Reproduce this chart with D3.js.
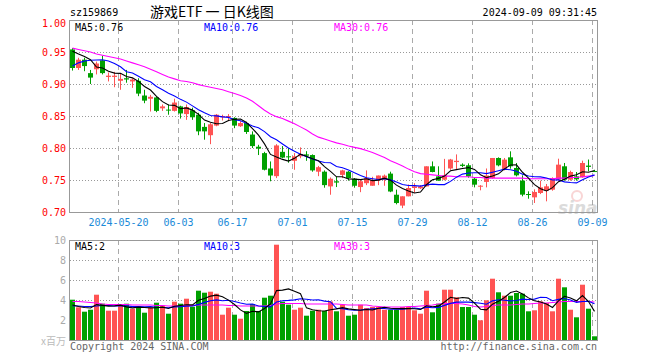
<!DOCTYPE html>
<html><head><meta charset="utf-8">
<script src="https://cdn.jsdelivr.net/npm/d3@7"></script>
<style>body{margin:0;background:#fff}svg{display:block}</style>
</head><body><svg id="c" width="660" height="360"></svg>
<script>
const dates = [
"2024-05-08","2024-05-09","2024-05-10","2024-05-13","2024-05-14","2024-05-15","2024-05-16","2024-05-17","2024-05-20","2024-05-21","2024-05-22","2024-05-23","2024-05-24","2024-05-27","2024-05-28","2024-05-29","2024-05-30","2024-05-31",
"2024-06-03","2024-06-04","2024-06-05","2024-06-06","2024-06-07","2024-06-11","2024-06-12","2024-06-13","2024-06-14","2024-06-17","2024-06-18","2024-06-19","2024-06-20","2024-06-21","2024-06-24","2024-06-25","2024-06-26","2024-06-27","2024-06-28",
"2024-07-01","2024-07-02","2024-07-03","2024-07-04","2024-07-05","2024-07-08","2024-07-09","2024-07-10","2024-07-11","2024-07-12","2024-07-15","2024-07-16","2024-07-17","2024-07-18","2024-07-19","2024-07-22","2024-07-23","2024-07-24","2024-07-25","2024-07-26","2024-07-29","2024-07-30","2024-07-31",
"2024-08-01","2024-08-02","2024-08-05","2024-08-06","2024-08-07","2024-08-08","2024-08-09","2024-08-12","2024-08-13","2024-08-14","2024-08-15","2024-08-16","2024-08-19","2024-08-20","2024-08-21","2024-08-22","2024-08-23","2024-08-26","2024-08-27","2024-08-28","2024-08-29","2024-08-30",
"2024-09-02","2024-09-03","2024-09-04","2024-09-05","2024-09-06","2024-09-09"];

const open  = [.954,.925,.938,.917,.923,.937,.911,.911,.905,.909,.904,.905,.882,.877,.879,.862,.860,.858,
.865,.853,.859,.852,.833,.820,.835,.848,.848,.847,.834,.839,.821,.802,.792,.768,.756,.794,.787,
.780,.787,.790,.789,.763,.763,.740,.748,.758,.763,.752,.739,.745,.741,.7495,.7505,.760,.727,.710,.7245,.7375,.737,.740,
.7714,.7557,.7505,.768,.778,.774,.773,.752,.7396,.747,.753,.7844,.766,.7854,.7688,.749,.7281,.7229,.7297,.7333,.7349,.7505,
.7714,.7505,.7557,.7542,.7725,.764];
const high  = [.956,.941,.941,.922,.935,.944,.918,.919,.917,.922,.909,.909,.891,.883,.881,.868,.868,.877,
.866,.868,.863,.855,.839,.839,.853,.852,.853,.848,.842,.841,.826,.805,.794,.779,.806,.803,.800,
.792,.801,.795,.790,.772,.765,.754,.755,.766,.764,.753,.751,.765,.755,.757,.7585,.763,.735,.7245,.743,.745,.742,.7714,
.779,.7714,.783,.783,.790,.776,.776,.7531,.742,.768,.7844,.7854,.7844,.7948,.7766,.7573,.7323,.7354,.749,.7438,.7541,.7833,
.7766,.7646,.7625,.7802,.782,.766];
const low   = [.921,.922,.920,.900,.915,.915,.904,.895,.891,.902,.894,.881,.870,.857,.856,.858,.852,.857,
.846,.844,.844,.820,.813,.806,.834,.843,.842,.831,.833,.822,.800,.789,.765,.748,.753,.784,.777,
.766,.784,.780,.763,.756,.738,.727,.739,.753,.749,.738,.731,.742,.741,.742,.741,.731,.712,.706,.7245,.730,.736,.740,
.762,.749,.7495,.766,.766,.770,.7537,.7385,.7339,.7385,.752,.7714,.765,.7677,.7557,.7245,.7208,.7141,.728,.7167,.7333,.749,
.749,.749,.749,.7536,.7635,.7625];
const close = [.925,.938,.928,.910,.932,.917,.913,.913,.908,.907,.907,.885,.874,.880,.858,.865,.859,.871,
.854,.864,.848,.826,.826,.837,.852,.850,.850,.835,.839,.825,.803,.799,.766,.757,.804,.785,.786,
.787,.790,.788,.765,.770,.742,.752,.746,.765,.753,.741,.748,.753,.750,.757,.7568,.732,.714,.7245,.7375,.740,.740,.7714,
.7625,.749,.7573,.782,.780,.772,.7557,.7427,.7411,.757,.7844,.7729,.7818,.7714,.7573,.7271,.7271,.7313,.7385,.7401,.7531,.774,
.7505,.7625,.751,.7766,.7705,.763];
const volume = [4.03,3.27,2.83,3.03,4.53,3.63,2.93,2.93,3.43,3.63,3.13,3.33,2.73,3.23,3.73,3.43,2.63,3.83,
3.63,4.13,3.33,4.93,4.73,4.83,4.63,2.53,3.23,2.53,2.13,2.9,3.6,2.9,4.23,4.43,9.53,3.83,3.53,
3.03,3.23,2.43,2.93,3.03,2.9,3.85,2.87,3.53,2.43,2.53,3.53,3.2,3.3,3.3,3.03,3.03,3.03,3.3,3.3,2.97,2.63,4.93,
2.77,3.63,5.03,5.03,4.27,3.3,3.3,2.53,1.97,3.97,6.13,4.77,4.43,4.43,4.7,4.63,2.87,2.97,3.87,3.7,2.87,6.13,
5.27,3.03,2.27,5.53,3.13,0.37];

const ma5Head  = [.951,.947,.943,.938];
const ma10Head = [.928,.933,.936,.937,.9375,.938,.936,.932,.927];
const ma30 = [.956,.954,.952,.950,.947,.945,.943,.941,.939,.936,.933,.930,.927,.923,.919,.915,.911,.908,
.905,.904,.902,.899,.897,.895,.893,.891,.888,.885,.882,.878,.873,.866,.859,.853,.849,.846,.842,
.838,.833,.828,.822,.817,.814,.811,.808,.806,.803,.801,.799,.796,.793,.789,.785,.780,.776,.772,.767,.763,.760,.759,
.758,.757,.756,.756,.755,.755,.755,.754,.754,.753,.753,.753,.753,.753,.753,.753,.752,.752,.752,.752,.752,.753,
.753,.754,.754,.755,.756,.757];
const volMa5Head  = [3.5,3.35,3.25,3.2];
const volMa10Head = [3.43,3.4,3.35,3.35,3.4,3.45,3.45,3.4,3.4];
const volMa30 = [3.85,3.85,3.8,3.75,3.7,3.6,3.55,3.55,3.55,3.55,3.5,3.5,3.5,3.5,3.45,3.45,3.4,3.4,
3.4,3.45,3.45,3.5,3.5,3.5,3.5,3.5,3.45,3.45,3.4,3.4,3.4,3.4,3.4,3.45,3.6,3.65,3.65,
3.65,3.65,3.6,3.6,3.6,3.6,3.6,3.6,3.55,3.5,3.5,3.5,3.5,3.4,3.35,3.3,3.3,3.3,3.3,3.35,3.35,3.4,3.45,
3.5,3.6,3.65,3.65,3.65,3.6,3.5,3.35,3.3,3.35,3.45,3.5,3.5,3.5,3.55,3.6,3.6,3.65,3.7,3.7,3.75,3.8,
3.85,3.85,3.85,3.85,3.85,3.8];

const priceTicks = [1.00,0.95,0.90,0.85,0.80,0.75,0.70];
const volTicks = [10,8,6,4,2];
const xTickDates = ["2024-05-20","2024-06-03","2024-06-17","2024-07-01","2024-07-15","2024-07-29","2024-08-12","2024-08-26","2024-09-09"];
const xTickLabels = ["2024-05-20","06-03","06-17","07-01","07-15","07-29","08-12","08-26","09-09"];
const priceMaLabels = ["MA5:0.76","MA10:0.76","MA30:0.76"];
const volMaLabels = ["MA5:2","MA10:3","MA30:3"];
const headerCode = "sz159869";
const headerTitle = "游戏ETF 一 日K线图";
const headerTime = "2024-09-09 09:31:45";

function movingAvg(arr, n, head){
  return arr.map((v,i)=> i < n-1 ? head[i] : d3.mean(arr.slice(i-n+1,i+1)));
}

const svg = d3.select("#c");
const mono = "'DejaVu Sans Mono', 'Liberation Mono', monospace";
const L = 70, R = 597, T = 20, B = 212, VT = 240, VB = 340;
const RED = "#ff5353", GREEN = "#00a000";

const x = d3.scaleBand().domain(dates).range([69.5, 597.5]).paddingInner(1/6).paddingOuter(1/12);
const y = d3.scaleLinear().domain([0.70, 1.00]).range([B, T]);
const yv = d3.scaleLinear().domain([0, 10]).range([VB, VT]);
const bw = 5;
const bx = d => Math.round(x(d));

// grids
const g = svg.append("g");
[[T,B],[VT,VB]].forEach(([t,b])=>{
  g.selectAll(null).data(xTickDates).enter().append("line")
    .attr("x1", d=>bx(d)+0.5).attr("x2", d=>bx(d)+0.5).attr("y1", t).attr("y2", b)
    .attr("stroke","#aaa").attr("stroke-dasharray","5,4");
});
g.selectAll(null).data(priceTicks.slice(1,-1)).enter().append("line")
  .attr("x1",L).attr("x2",R).attr("y1",d=>Math.round(y(d))+0.5).attr("y2",d=>Math.round(y(d))+0.5)
  .attr("stroke","#999").attr("stroke-dasharray","1,2");
g.selectAll(null).data(volTicks.slice(1)).enter().append("line")
  .attr("x1",L).attr("x2",R).attr("y1",d=>Math.round(yv(d))+0.5).attr("y2",d=>Math.round(yv(d))+0.5)
  .attr("stroke","#999").attr("stroke-dasharray","1,2");

// axis labels
svg.selectAll(null).data(priceTicks).enter().append("text")
  .attr("x",66).attr("y",(d,i)=> i===0 ? y(d)+7 : y(d)+4).attr("text-anchor","end")
  .attr("font-family",mono).attr("font-size",10).attr("fill","#f00").text(d=>d.toFixed(2));
svg.selectAll(null).data(volTicks).enter().append("text")
  .attr("x",66).attr("y",d=>yv(d)+4).attr("text-anchor","end")
  .attr("font-family",mono).attr("font-size",10).attr("fill","#aaa").text(d=>d);
svg.append("text").attr("x",66).attr("y",345).attr("text-anchor","end")
  .attr("font-family","'Noto Sans CJK SC', sans-serif").attr("font-size",10).attr("fill","#bbb").text("x百万");
svg.selectAll(null).data(xTickDates).enter().append("text")
  .attr("x",d=>bx(d)+0.5).attr("y",226).attr("text-anchor","middle")
  .attr("font-family",mono).attr("font-size",10).attr("fill","#1a8ad8")
  .text((d,i)=>xTickLabels[i]);

// watermark
const wm = svg.append("g").attr("opacity",0.35);
wm.append("circle").attr("cx",577).attr("cy",196).attr("r",5).attr("fill","none").attr("stroke","#e88").attr("stroke-width",2);
wm.append("text").attr("x",558).attr("y",214).attr("font-family","'DejaVu Sans', sans-serif")
  .attr("font-style","italic").attr("font-weight","bold").attr("font-size",17).attr("fill","#999").text("sina");

// candles
const up = i => close[i] >= open[i];
const cg = svg.append("g");
cg.selectAll(null).data(dates).enter().append("rect")
  .attr("x",d=>bx(d)+2).attr("width",1)
  .attr("y",(d,i)=>y(high[i])).attr("height",(d,i)=>Math.max(1,y(low[i])-y(high[i])))
  .attr("fill",(d,i)=>up(i)?RED:GREEN);
cg.selectAll(null).data(dates).enter().append("rect")
  .attr("x",d=>bx(d)).attr("width",bw)
  .attr("y",(d,i)=>y(Math.max(open[i],close[i])))
  .attr("height",(d,i)=>Math.max(1,Math.abs(y(open[i])-y(close[i]))))
  .attr("fill",(d,i)=>up(i)?RED:GREEN);

// volume bars
svg.append("g").selectAll(null).data(dates).enter().append("rect")
  .attr("x",d=>bx(d)).attr("width",bw)
  .attr("y",(d,i)=>yv(volume[i])).attr("height",(d,i)=>VB-yv(volume[i]))
  .attr("fill",(d,i)=>up(i)?RED:GREEN);

// MA lines
const cx = d => bx(d)+2.5;
function drawLine(vals, sc, color){
  svg.append("path").datum(vals)
    .attr("d", d3.line().x((v,i)=>cx(dates[i])).y(v=>sc(v)))
    .attr("fill","none").attr("stroke",color).attr("stroke-width",1.1);
}
drawLine(ma30, y, "#ff00ff");
drawLine(movingAvg(close,10,ma10Head), y, "#0000ff");
drawLine(movingAvg(close,5,ma5Head), y, "#000");
drawLine(volMa30, yv, "#ff00ff");
drawLine(movingAvg(volume,10,volMa10Head), yv, "#0000ff");
drawLine(movingAvg(volume,5,volMa5Head), yv, "#000");

// borders
svg.append("rect").attr("x",L-0.5).attr("y",T+0.5).attr("width",R-L+1).attr("height",B-T)
  .attr("fill","none").attr("stroke","#999");
svg.append("rect").attr("x",L-0.5).attr("y",VT+0.5).attr("width",R-L+1).attr("height",VB-VT)
  .attr("fill","none").attr("stroke","#999");

// MA labels
const maColors = ["#000","#0000ff","#ff00ff"], maX = [75,204,334];
svg.selectAll(null).data(priceMaLabels).enter().append("text")
  .attr("x",(d,i)=>maX[i]).attr("y",31).attr("font-family",mono).attr("font-size",10)
  .attr("fill",(d,i)=>maColors[i]).text(d=>d);
svg.selectAll(null).data(volMaLabels).enter().append("text")
  .attr("x",(d,i)=>maX[i]).attr("y",250).attr("font-family",mono).attr("font-size",10)
  .attr("fill",(d,i)=>maColors[i]).text(d=>d);

// header
svg.append("text").attr("x",70).attr("y",16).attr("font-family",mono).attr("font-size",10).attr("fill","#000").text(headerCode);
svg.append("text").attr("x",150).attr("y",17).attr("font-family","'Noto Sans CJK SC', sans-serif").attr("font-size",14).attr("fill","#000").text(headerTitle);
svg.append("text").attr("x",597).attr("y",16).attr("text-anchor","end").attr("font-family",mono).attr("font-size",10).attr("fill","#000").text(headerTime);

// footer
svg.append("text").attr("x",70).attr("y",350).attr("font-family",mono).attr("font-size",10).attr("fill","#666").text("Copyright 2024 SINA.COM");
svg.append("text").attr("x",597).attr("y",350).attr("text-anchor","end").attr("font-family",mono).attr("font-size",10).attr("fill","#666").text("http://finance.sina.com.cn");
</script></body></html>
